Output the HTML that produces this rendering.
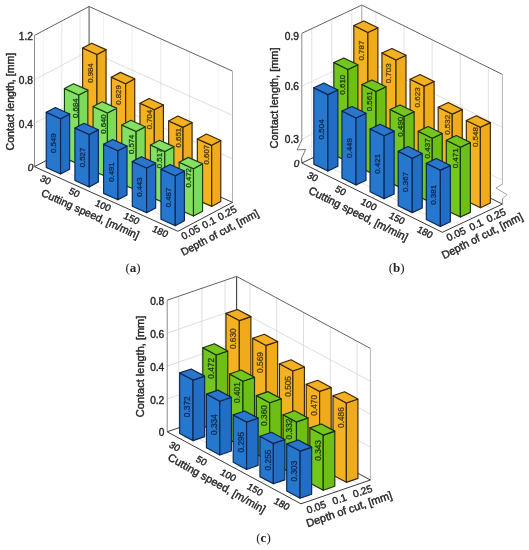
<!DOCTYPE html>
<html lang="en"><head><meta charset="utf-8"><title>Contact length charts</title>
<style>html,body{margin:0;padding:0;background:#fff}svg{display:block}</style></head>
<body>
<svg width="529" height="550" viewBox="0 0 529 550">
<defs><filter id="soft" x="0" y="0" width="529" height="550" filterUnits="userSpaceOnUse"><feGaussianBlur stdDeviation="0.35"/></filter></defs>
<rect width="529" height="550" fill="#ffffff"/>
<g filter="url(#soft)">
<rect width="529" height="550" fill="#ffffff"/>
<g>
<polygon points="34.5,166.7 34.5,35.4 89.1,6.5 232.5,71.1 232.5,202.4 177.9,231.3" fill="#ffffff"/>
<line x1="43.6" y1="161.88" x2="43.6" y2="30.58" stroke="#f0f0f0" stroke-width="0.8"/>
<line x1="43.6" y1="161.88" x2="187" y2="226.48" stroke="#e0e0e0" stroke-width="0.8"/>
<line x1="61.8" y1="152.25" x2="61.8" y2="20.95" stroke="#e0e0e0" stroke-width="0.8"/>
<line x1="61.8" y1="152.25" x2="205.2" y2="216.85" stroke="#e0e0e0" stroke-width="0.8"/>
<line x1="80" y1="142.62" x2="80" y2="11.32" stroke="#e0e0e0" stroke-width="0.8"/>
<line x1="80" y1="142.62" x2="223.4" y2="207.22" stroke="#e0e0e0" stroke-width="0.8"/>
<line x1="103.44" y1="144.26" x2="103.44" y2="12.96" stroke="#eeeeee" stroke-width="0.8"/>
<line x1="48.84" y1="173.16" x2="103.44" y2="144.26" stroke="#e0e0e0" stroke-width="0.8"/>
<line x1="132.12" y1="157.18" x2="132.12" y2="25.88" stroke="#e8e8e8" stroke-width="0.8"/>
<line x1="77.52" y1="186.08" x2="132.12" y2="157.18" stroke="#e0e0e0" stroke-width="0.8"/>
<line x1="160.8" y1="170.1" x2="160.8" y2="38.8" stroke="#e0e0e0" stroke-width="0.8"/>
<line x1="106.2" y1="199" x2="160.8" y2="170.1" stroke="#e0e0e0" stroke-width="0.8"/>
<line x1="189.48" y1="183.02" x2="189.48" y2="51.72" stroke="#e0e0e0" stroke-width="0.8"/>
<line x1="134.88" y1="211.92" x2="189.48" y2="183.02" stroke="#e0e0e0" stroke-width="0.8"/>
<line x1="218.16" y1="195.94" x2="218.16" y2="64.64" stroke="#f2f2f2" stroke-width="0.8"/>
<line x1="163.56" y1="224.84" x2="218.16" y2="195.94" stroke="#e0e0e0" stroke-width="0.8"/>
<line x1="34.5" y1="123.2" x2="89.1" y2="94.3" stroke="#d6d6d6" stroke-width="0.8"/>
<line x1="89.1" y1="94.3" x2="232.5" y2="158.9" stroke="#d6d6d6" stroke-width="0.8"/>
<line x1="34.5" y1="79.7" x2="89.1" y2="50.8" stroke="#d6d6d6" stroke-width="0.8"/>
<line x1="89.1" y1="50.8" x2="232.5" y2="115.4" stroke="#d6d6d6" stroke-width="0.8"/>
<line x1="34.5" y1="35.4" x2="89.1" y2="6.5" stroke="#5a5a5a" stroke-width="0.95"/>
<line x1="89.1" y1="6.5" x2="232.5" y2="71.1" stroke="#5a5a5a" stroke-width="0.95"/>
<line x1="89.1" y1="6.5" x2="89.1" y2="137.8" stroke="#2a2a2a" stroke-width="0.85"/>
<line x1="232.5" y1="71.1" x2="232.5" y2="202.4" stroke="#b0b0b0" stroke-width="0.95"/>
<line x1="34.5" y1="166.7" x2="34.5" y2="35.4" stroke="#858585" stroke-width="0.95"/>
<line x1="34.5" y1="166.7" x2="89.1" y2="137.8" stroke="#303030" stroke-width="0.95"/>
<line x1="89.1" y1="137.8" x2="232.5" y2="202.4" stroke="#303030" stroke-width="0.95"/>
<line x1="34.5" y1="166.7" x2="177.9" y2="231.3" stroke="#303030" stroke-width="0.95"/>
<line x1="177.9" y1="231.3" x2="232.5" y2="202.4" stroke="#303030" stroke-width="0.95"/>
<polygon points="82.62,148.25 96.96,154.71 96.96,54.46 82.62,48" fill="#f4b222" stroke="#3a2602" stroke-width="1.15" stroke-linejoin="round"/>
<polygon points="96.96,154.71 106.06,149.9 106.06,49.64 96.96,54.46" fill="#f0ab1a" stroke="#3a2602" stroke-width="1.15" stroke-linejoin="round"/>
<polygon points="82.62,48 96.96,54.46 106.06,49.64 91.72,43.18" fill="#f3b020" stroke="#3a2602" stroke-width="1.15" stroke-linejoin="round"/>
<polygon points="111.3,161.18 125.64,167.63 125.64,83.66 111.3,77.2" fill="#f4b222" stroke="#3a2602" stroke-width="1.15" stroke-linejoin="round"/>
<polygon points="125.64,167.63 134.74,162.82 134.74,78.84 125.64,83.66" fill="#f0ab1a" stroke="#3a2602" stroke-width="1.15" stroke-linejoin="round"/>
<polygon points="111.3,77.2 125.64,83.66 134.74,78.84 120.4,72.38" fill="#f3b020" stroke="#3a2602" stroke-width="1.15" stroke-linejoin="round"/>
<polygon points="139.98,174.09 154.32,180.56 154.32,109.76 139.98,103.3" fill="#f4b222" stroke="#3a2602" stroke-width="1.15" stroke-linejoin="round"/>
<polygon points="154.32,180.56 163.42,175.74 163.42,104.94 154.32,109.76" fill="#f0ab1a" stroke="#3a2602" stroke-width="1.15" stroke-linejoin="round"/>
<polygon points="139.98,103.3 154.32,109.76 163.42,104.94 149.08,98.48" fill="#f3b020" stroke="#3a2602" stroke-width="1.15" stroke-linejoin="round"/>
<polygon points="168.66,187.01 183,193.47 183,127.36 168.66,120.9" fill="#f4b222" stroke="#3a2602" stroke-width="1.15" stroke-linejoin="round"/>
<polygon points="183,193.47 192.1,188.66 192.1,122.54 183,127.36" fill="#f0ab1a" stroke="#3a2602" stroke-width="1.15" stroke-linejoin="round"/>
<polygon points="168.66,120.9 183,127.36 192.1,122.54 177.76,116.08" fill="#f3b020" stroke="#3a2602" stroke-width="1.15" stroke-linejoin="round"/>
<polygon points="197.34,199.94 211.68,206.39 211.68,145.36 197.34,138.9" fill="#f4b222" stroke="#3a2602" stroke-width="1.15" stroke-linejoin="round"/>
<polygon points="211.68,206.39 220.78,201.58 220.78,140.54 211.68,145.36" fill="#f0ab1a" stroke="#3a2602" stroke-width="1.15" stroke-linejoin="round"/>
<polygon points="197.34,138.9 211.68,145.36 220.78,140.54 206.44,134.08" fill="#f3b020" stroke="#3a2602" stroke-width="1.15" stroke-linejoin="round"/>
<polygon points="64.42,157.89 78.76,164.35 78.76,94.96 64.42,88.5" fill="#84e062" stroke="#173d0e" stroke-width="1.15" stroke-linejoin="round"/>
<polygon points="78.76,164.35 87.86,159.53 87.86,90.14 78.76,94.96" fill="#7ddb5a" stroke="#173d0e" stroke-width="1.15" stroke-linejoin="round"/>
<polygon points="64.42,88.5 78.76,94.96 87.86,90.14 73.52,83.68" fill="#86e064" stroke="#173d0e" stroke-width="1.15" stroke-linejoin="round"/>
<polygon points="93.1,170.81 107.44,177.27 107.44,112.96 93.1,106.5" fill="#84e062" stroke="#173d0e" stroke-width="1.15" stroke-linejoin="round"/>
<polygon points="107.44,177.27 116.54,172.45 116.54,108.14 107.44,112.96" fill="#7ddb5a" stroke="#173d0e" stroke-width="1.15" stroke-linejoin="round"/>
<polygon points="93.1,106.5 107.44,112.96 116.54,108.14 102.2,101.68" fill="#86e064" stroke="#173d0e" stroke-width="1.15" stroke-linejoin="round"/>
<polygon points="121.78,183.73 136.12,190.19 136.12,131.56 121.78,125.1" fill="#84e062" stroke="#173d0e" stroke-width="1.15" stroke-linejoin="round"/>
<polygon points="136.12,190.19 145.22,185.37 145.22,126.74 136.12,131.56" fill="#7ddb5a" stroke="#173d0e" stroke-width="1.15" stroke-linejoin="round"/>
<polygon points="121.78,125.1 136.12,131.56 145.22,126.74 130.88,120.28" fill="#86e064" stroke="#173d0e" stroke-width="1.15" stroke-linejoin="round"/>
<polygon points="150.46,196.65 164.8,203.11 164.8,151.46 150.46,145" fill="#84e062" stroke="#173d0e" stroke-width="1.15" stroke-linejoin="round"/>
<polygon points="164.8,203.11 173.9,198.29 173.9,146.64 164.8,151.46" fill="#7ddb5a" stroke="#173d0e" stroke-width="1.15" stroke-linejoin="round"/>
<polygon points="150.46,145 164.8,151.46 173.9,146.64 159.56,140.18" fill="#86e064" stroke="#173d0e" stroke-width="1.15" stroke-linejoin="round"/>
<polygon points="179.14,209.57 193.48,216.03 193.48,168.66 179.14,162.2" fill="#84e062" stroke="#173d0e" stroke-width="1.15" stroke-linejoin="round"/>
<polygon points="193.48,216.03 202.58,211.21 202.58,163.84 193.48,168.66" fill="#7ddb5a" stroke="#173d0e" stroke-width="1.15" stroke-linejoin="round"/>
<polygon points="179.14,162.2 193.48,168.66 202.58,163.84 188.24,157.38" fill="#86e064" stroke="#173d0e" stroke-width="1.15" stroke-linejoin="round"/>
<polygon points="46.22,167.52 60.56,173.98 60.56,118.76 46.22,112.3" fill="#2877ce" stroke="#0a2550" stroke-width="1.15" stroke-linejoin="round"/>
<polygon points="60.56,173.98 69.66,169.16 69.66,113.94 60.56,118.76" fill="#216dc5" stroke="#0a2550" stroke-width="1.15" stroke-linejoin="round"/>
<polygon points="46.22,112.3 60.56,118.76 69.66,113.94 55.32,107.48" fill="#2a76cc" stroke="#0a2550" stroke-width="1.15" stroke-linejoin="round"/>
<polygon points="74.9,180.44 89.24,186.9 89.24,134.56 74.9,128.1" fill="#2877ce" stroke="#0a2550" stroke-width="1.15" stroke-linejoin="round"/>
<polygon points="89.24,186.9 98.34,182.08 98.34,129.74 89.24,134.56" fill="#216dc5" stroke="#0a2550" stroke-width="1.15" stroke-linejoin="round"/>
<polygon points="74.9,128.1 89.24,134.56 98.34,129.74 84,123.28" fill="#2a76cc" stroke="#0a2550" stroke-width="1.15" stroke-linejoin="round"/>
<polygon points="103.58,193.36 117.92,199.82 117.92,150.76 103.58,144.3" fill="#2877ce" stroke="#0a2550" stroke-width="1.15" stroke-linejoin="round"/>
<polygon points="117.92,199.82 127.02,195 127.02,145.94 117.92,150.76" fill="#216dc5" stroke="#0a2550" stroke-width="1.15" stroke-linejoin="round"/>
<polygon points="103.58,144.3 117.92,150.76 127.02,145.94 112.68,139.48" fill="#2a76cc" stroke="#0a2550" stroke-width="1.15" stroke-linejoin="round"/>
<polygon points="132.26,206.28 146.6,212.74 146.6,167.96 132.26,161.5" fill="#2877ce" stroke="#0a2550" stroke-width="1.15" stroke-linejoin="round"/>
<polygon points="146.6,212.74 155.7,207.92 155.7,163.14 146.6,167.96" fill="#216dc5" stroke="#0a2550" stroke-width="1.15" stroke-linejoin="round"/>
<polygon points="132.26,161.5 146.6,167.96 155.7,163.14 141.36,156.68" fill="#2a76cc" stroke="#0a2550" stroke-width="1.15" stroke-linejoin="round"/>
<polygon points="160.94,219.2 175.28,225.66 175.28,175.76 160.94,169.3" fill="#2877ce" stroke="#0a2550" stroke-width="1.15" stroke-linejoin="round"/>
<polygon points="175.28,225.66 184.38,220.84 184.38,170.94 175.28,175.76" fill="#216dc5" stroke="#0a2550" stroke-width="1.15" stroke-linejoin="round"/>
<polygon points="160.94,169.3 175.28,175.76 184.38,170.94 170.04,164.48" fill="#2a76cc" stroke="#0a2550" stroke-width="1.15" stroke-linejoin="round"/>
<text x="0" y="0" font-size="7.8" text-anchor="middle" fill="#584208" stroke="#584208" stroke-width="0.35" font-family='"Liberation Sans", Arial, sans-serif' transform="translate(90.29 73.1) rotate(-90)" dominant-baseline="central">0.984</text>
<text x="0" y="0" font-size="7.8" text-anchor="middle" fill="#584208" stroke="#584208" stroke-width="0.35" font-family='"Liberation Sans", Arial, sans-serif' transform="translate(118.67 95) rotate(-90)" dominant-baseline="central">0.829</text>
<text x="0" y="0" font-size="7.8" text-anchor="middle" fill="#584208" stroke="#584208" stroke-width="0.35" font-family='"Liberation Sans", Arial, sans-serif' transform="translate(149.75 119.5) rotate(-90)" dominant-baseline="central">0.704</text>
<text x="0" y="0" font-size="7.8" text-anchor="middle" fill="#584208" stroke="#584208" stroke-width="0.35" font-family='"Liberation Sans", Arial, sans-serif' transform="translate(178.83 137.7) rotate(-90)" dominant-baseline="central">0.651</text>
<text x="0" y="0" font-size="7.8" text-anchor="middle" fill="#584208" stroke="#584208" stroke-width="0.35" font-family='"Liberation Sans", Arial, sans-serif' transform="translate(206.51 154.7) rotate(-90)" dominant-baseline="central">0.607</text>
<text x="0" y="0" font-size="7.8" text-anchor="middle" fill="#1f4c14" stroke="#1f4c14" stroke-width="0.35" font-family='"Liberation Sans", Arial, sans-serif' transform="translate(75.59 108.2) rotate(-90)" dominant-baseline="central">0.684</text>
<text x="0" y="0" font-size="7.8" text-anchor="middle" fill="#1f4c14" stroke="#1f4c14" stroke-width="0.35" font-family='"Liberation Sans", Arial, sans-serif' transform="translate(103.27 124.1) rotate(-90)" dominant-baseline="central">0.640</text>
<text x="0" y="0" font-size="7.8" text-anchor="middle" fill="#1f4c14" stroke="#1f4c14" stroke-width="0.35" font-family='"Liberation Sans", Arial, sans-serif' transform="translate(131.65 144.3) rotate(-90)" dominant-baseline="central">0.574</text>
<text x="0" y="0" font-size="7.8" text-anchor="middle" fill="#1f4c14" stroke="#1f4c14" stroke-width="0.35" font-family='"Liberation Sans", Arial, sans-serif' transform="translate(159.43 158.4) rotate(-90)" dominant-baseline="central">0.517</text>
<text x="0" y="0" font-size="7.8" text-anchor="middle" fill="#1f4c14" stroke="#1f4c14" stroke-width="0.35" font-family='"Liberation Sans", Arial, sans-serif' transform="translate(188.31 177.8) rotate(-90)" dominant-baseline="central">0.472</text>
<text x="0" y="0" font-size="7.8" text-anchor="middle" fill="#0b2d58" stroke="#0b2d58" stroke-width="0.35" font-family='"Liberation Sans", Arial, sans-serif' transform="translate(53.69 143.14) rotate(-90)" dominant-baseline="central">0.549</text>
<text x="0" y="0" font-size="7.8" text-anchor="middle" fill="#0b2d58" stroke="#0b2d58" stroke-width="0.35" font-family='"Liberation Sans", Arial, sans-serif' transform="translate(82.37 157.5) rotate(-90)" dominant-baseline="central">0.527</text>
<text x="0" y="0" font-size="7.8" text-anchor="middle" fill="#0b2d58" stroke="#0b2d58" stroke-width="0.35" font-family='"Liberation Sans", Arial, sans-serif' transform="translate(111.05 172.06) rotate(-90)" dominant-baseline="central">0.491</text>
<text x="0" y="0" font-size="7.8" text-anchor="middle" fill="#0b2d58" stroke="#0b2d58" stroke-width="0.35" font-family='"Liberation Sans", Arial, sans-serif' transform="translate(139.73 187.12) rotate(-90)" dominant-baseline="central">0.443</text>
<text x="0" y="0" font-size="7.8" text-anchor="middle" fill="#0b2d58" stroke="#0b2d58" stroke-width="0.35" font-family='"Liberation Sans", Arial, sans-serif' transform="translate(168.41 197.48) rotate(-90)" dominant-baseline="central">0.487</text>
<text x="0" y="0" font-size="10.2" text-anchor="end" fill="#262626" stroke="#262626" stroke-width="0.4" font-family='"Liberation Sans", Arial, sans-serif' transform="translate(33 171.1) rotate(0) skewX(-10)">0</text>
<text x="33" y="127.6" font-size="10.2" text-anchor="end" fill="#262626" stroke="#262626" stroke-width="0.4" font-family='"Liberation Sans", Arial, sans-serif'>0.4</text>
<text x="33" y="84.1" font-size="10.2" text-anchor="end" fill="#262626" stroke="#262626" stroke-width="0.4" font-family='"Liberation Sans", Arial, sans-serif'>0.8</text>
<text x="33" y="39.8" font-size="10.2" text-anchor="end" fill="#262626" stroke="#262626" stroke-width="0.4" font-family='"Liberation Sans", Arial, sans-serif'>1.2</text>
<text x="0" y="0" font-size="9.6" text-anchor="middle" fill="#262626" stroke="#262626" stroke-width="0.4" font-family='"Liberation Sans", Arial, sans-serif' transform="translate(45.74 179.56) rotate(24.25) skewX(-4)" dominant-baseline="central">30</text>
<text x="0" y="0" font-size="9.6" text-anchor="middle" fill="#262626" stroke="#262626" stroke-width="0.4" font-family='"Liberation Sans", Arial, sans-serif' transform="translate(74.42 192.48) rotate(24.25) skewX(-4)" dominant-baseline="central">50</text>
<text x="0" y="0" font-size="9.6" text-anchor="middle" fill="#262626" stroke="#262626" stroke-width="0.4" font-family='"Liberation Sans", Arial, sans-serif' transform="translate(103.1 205.4) rotate(24.25) skewX(-4)" dominant-baseline="central">100</text>
<text x="0" y="0" font-size="9.6" text-anchor="middle" fill="#262626" stroke="#262626" stroke-width="0.4" font-family='"Liberation Sans", Arial, sans-serif' transform="translate(131.78 218.32) rotate(24.25) skewX(-4)" dominant-baseline="central">150</text>
<text x="0" y="0" font-size="9.6" text-anchor="middle" fill="#262626" stroke="#262626" stroke-width="0.4" font-family='"Liberation Sans", Arial, sans-serif' transform="translate(160.46 231.24) rotate(24.25) skewX(-4)" dominant-baseline="central">180</text>
<text x="0" y="0" font-size="10.2" text-anchor="middle" fill="#262626" stroke="#262626" stroke-width="0.4" font-family='"Liberation Sans", Arial, sans-serif' transform="translate(190.7 232.18) rotate(-27.89)" dominant-baseline="central">0.05</text>
<text x="0" y="0" font-size="10.2" text-anchor="middle" fill="#262626" stroke="#262626" stroke-width="0.4" font-family='"Liberation Sans", Arial, sans-serif' transform="translate(208.9 222.55) rotate(-27.89)" dominant-baseline="central">0.1</text>
<text x="0" y="0" font-size="10.2" text-anchor="middle" fill="#262626" stroke="#262626" stroke-width="0.4" font-family='"Liberation Sans", Arial, sans-serif' transform="translate(227.1 212.92) rotate(-27.89)" dominant-baseline="central">0.25</text>
<text x="0" y="0" font-size="10.6" text-anchor="middle" fill="#262626" stroke="#262626" stroke-width="0.4" font-family='"Liberation Sans", Arial, sans-serif' transform="translate(13.6 101.6) rotate(-90)">Contact length, [mm]</text>
<text x="0" y="0" font-size="10.6" text-anchor="middle" fill="#262626" stroke="#262626" stroke-width="0.4" font-family='"Liberation Sans", Arial, sans-serif' transform="translate(90.5 213.6) rotate(24.25)" dominant-baseline="central">Cutting speed, [m/min]</text>
<text x="0" y="0" font-size="10.6" text-anchor="middle" fill="#262626" stroke="#262626" stroke-width="0.4" font-family='"Liberation Sans", Arial, sans-serif' transform="translate(219.5 232.3) rotate(-27.89)" dominant-baseline="central">Depth of cut, [mm]</text>
<text x="133" y="272.3" font-size="13" text-anchor="middle" fill="#222" font-family='"Liberation Serif", "Times New Roman", serif'>(<tspan font-weight="bold">a</tspan>)</text>
</g>
<g>
<polygon points="301.8,163 301.8,33.3 361.8,5.1 502.4,74.4 502.4,204.1 442.4,232.3" fill="#ffffff"/>
<line x1="311.8" y1="158.3" x2="311.8" y2="28.6" stroke="#dadada" stroke-width="0.8"/>
<line x1="311.8" y1="158.3" x2="452.4" y2="227.6" stroke="#dadada" stroke-width="0.8"/>
<line x1="331.8" y1="148.9" x2="331.8" y2="19.2" stroke="#dadada" stroke-width="0.8"/>
<line x1="331.8" y1="148.9" x2="472.4" y2="218.2" stroke="#dadada" stroke-width="0.8"/>
<line x1="351.8" y1="139.5" x2="351.8" y2="9.8" stroke="#dadada" stroke-width="0.8"/>
<line x1="351.8" y1="139.5" x2="492.4" y2="208.8" stroke="#dadada" stroke-width="0.8"/>
<line x1="375.86" y1="141.73" x2="375.86" y2="12.03" stroke="#dadada" stroke-width="0.8"/>
<line x1="315.86" y1="169.93" x2="375.86" y2="141.73" stroke="#dadada" stroke-width="0.8"/>
<line x1="403.98" y1="155.59" x2="403.98" y2="25.89" stroke="#dadada" stroke-width="0.8"/>
<line x1="343.98" y1="183.79" x2="403.98" y2="155.59" stroke="#dadada" stroke-width="0.8"/>
<line x1="432.1" y1="169.45" x2="432.1" y2="39.75" stroke="#dadada" stroke-width="0.8"/>
<line x1="372.1" y1="197.65" x2="432.1" y2="169.45" stroke="#dadada" stroke-width="0.8"/>
<line x1="460.22" y1="183.31" x2="460.22" y2="53.61" stroke="#dadada" stroke-width="0.8"/>
<line x1="400.22" y1="211.51" x2="460.22" y2="183.31" stroke="#dadada" stroke-width="0.8"/>
<line x1="488.34" y1="197.17" x2="488.34" y2="67.47" stroke="#dadada" stroke-width="0.8"/>
<line x1="428.34" y1="225.37" x2="488.34" y2="197.17" stroke="#dadada" stroke-width="0.8"/>
<line x1="301.8" y1="139.1" x2="361.8" y2="110.9" stroke="#dadada" stroke-width="0.8"/>
<line x1="361.8" y1="110.9" x2="502.4" y2="180.2" stroke="#dadada" stroke-width="0.8"/>
<line x1="301.8" y1="86.2" x2="361.8" y2="58" stroke="#dadada" stroke-width="0.8"/>
<line x1="361.8" y1="58" x2="502.4" y2="127.3" stroke="#dadada" stroke-width="0.8"/>
<line x1="301.8" y1="33.3" x2="361.8" y2="5.1" stroke="#5a5a5a" stroke-width="0.95"/>
<line x1="361.8" y1="5.1" x2="502.4" y2="74.4" stroke="#5a5a5a" stroke-width="0.95"/>
<line x1="361.8" y1="5.1" x2="361.8" y2="134.8" stroke="#909090" stroke-width="0.85"/>
<line x1="502.4" y1="74.4" x2="502.4" y2="204.1" stroke="#b0b0b0" stroke-width="0.95"/>
<line x1="301.8" y1="163" x2="301.8" y2="33.3" stroke="#858585" stroke-width="0.95"/>
<line x1="301.8" y1="163" x2="361.8" y2="134.8" stroke="#303030" stroke-width="0.95"/>
<line x1="361.8" y1="134.8" x2="502.4" y2="204.1" stroke="#303030" stroke-width="0.95"/>
<line x1="301.8" y1="163" x2="442.4" y2="232.3" stroke="#303030" stroke-width="0.95"/>
<line x1="442.4" y1="232.3" x2="502.4" y2="204.1" stroke="#303030" stroke-width="0.95"/>
<rect x="296" y="140.5" width="11" height="18" fill="#fff"/>
<polyline points="301.8,140 297.1,149.9 305.6,149.5 301.3,158.9 301.8,162.7" fill="none" stroke="#555" stroke-width="0.8" stroke-linejoin="miter"/>
<rect x="495" y="184.5" width="13" height="14" fill="#fff"/>
<polyline points="502.4,184.1 495.9,188 507,194.6 502.4,198.9 502.4,203.7" fill="none" stroke="#8a8a8a" stroke-width="0.8" stroke-linejoin="miter"/>
<polygon points="353.83,145.31 367.89,152.25 367.89,32.53 353.83,25.6" fill="#f4b222" stroke="#3a2602" stroke-width="1.15" stroke-linejoin="round"/>
<polygon points="367.89,152.25 377.89,147.55 377.89,27.83 367.89,32.53" fill="#f0ab1a" stroke="#3a2602" stroke-width="1.15" stroke-linejoin="round"/>
<polygon points="353.83,25.6 367.89,32.53 377.89,27.83 363.83,20.9" fill="#f3b020" stroke="#3a2602" stroke-width="1.15" stroke-linejoin="round"/>
<polygon points="381.95,159.17 396.01,166.1 396.01,60.03 381.95,53.1" fill="#f4b222" stroke="#3a2602" stroke-width="1.15" stroke-linejoin="round"/>
<polygon points="396.01,166.1 406.01,161.41 406.01,55.33 396.01,60.03" fill="#f0ab1a" stroke="#3a2602" stroke-width="1.15" stroke-linejoin="round"/>
<polygon points="381.95,53.1 396.01,60.03 406.01,55.33 391.95,48.4" fill="#f3b020" stroke="#3a2602" stroke-width="1.15" stroke-linejoin="round"/>
<polygon points="410.07,173.03 424.13,179.97 424.13,86.13 410.07,79.2" fill="#f4b222" stroke="#3a2602" stroke-width="1.15" stroke-linejoin="round"/>
<polygon points="424.13,179.97 434.13,175.27 434.13,81.43 424.13,86.13" fill="#f0ab1a" stroke="#3a2602" stroke-width="1.15" stroke-linejoin="round"/>
<polygon points="410.07,79.2 424.13,86.13 434.13,81.43 420.07,74.5" fill="#f3b020" stroke="#3a2602" stroke-width="1.15" stroke-linejoin="round"/>
<polygon points="438.19,186.9 452.25,193.82 452.25,114.13 438.19,107.2" fill="#f4b222" stroke="#3a2602" stroke-width="1.15" stroke-linejoin="round"/>
<polygon points="452.25,193.82 462.25,189.12 462.25,109.43 452.25,114.13" fill="#f0ab1a" stroke="#3a2602" stroke-width="1.15" stroke-linejoin="round"/>
<polygon points="438.19,107.2 452.25,114.13 462.25,109.43 448.19,102.5" fill="#f3b020" stroke="#3a2602" stroke-width="1.15" stroke-linejoin="round"/>
<polygon points="466.31,200.75 480.37,207.68 480.37,127.33 466.31,120.4" fill="#f4b222" stroke="#3a2602" stroke-width="1.15" stroke-linejoin="round"/>
<polygon points="480.37,207.68 490.37,202.98 490.37,122.63 480.37,127.33" fill="#f0ab1a" stroke="#3a2602" stroke-width="1.15" stroke-linejoin="round"/>
<polygon points="466.31,120.4 480.37,127.33 490.37,122.63 476.31,115.7" fill="#f3b020" stroke="#3a2602" stroke-width="1.15" stroke-linejoin="round"/>
<polygon points="333.83,154.72 347.89,161.65 347.89,69.53 333.83,62.6" fill="#73c61d" stroke="#16300a" stroke-width="1.15" stroke-linejoin="round"/>
<polygon points="347.89,161.65 357.89,156.95 357.89,64.83 347.89,69.53" fill="#6dbf18" stroke="#16300a" stroke-width="1.15" stroke-linejoin="round"/>
<polygon points="333.83,62.6 347.89,69.53 357.89,64.83 343.83,57.9" fill="#74c61f" stroke="#16300a" stroke-width="1.15" stroke-linejoin="round"/>
<polygon points="361.95,168.57 376.01,175.5 376.01,91.53 361.95,84.6" fill="#73c61d" stroke="#16300a" stroke-width="1.15" stroke-linejoin="round"/>
<polygon points="376.01,175.5 386.01,170.81 386.01,86.83 376.01,91.53" fill="#6dbf18" stroke="#16300a" stroke-width="1.15" stroke-linejoin="round"/>
<polygon points="361.95,84.6 376.01,91.53 386.01,86.83 371.95,79.9" fill="#74c61f" stroke="#16300a" stroke-width="1.15" stroke-linejoin="round"/>
<polygon points="390.07,182.44 404.13,189.37 404.13,116.53 390.07,109.6" fill="#73c61d" stroke="#16300a" stroke-width="1.15" stroke-linejoin="round"/>
<polygon points="404.13,189.37 414.13,184.67 414.13,111.83 404.13,116.53" fill="#6dbf18" stroke="#16300a" stroke-width="1.15" stroke-linejoin="round"/>
<polygon points="390.07,109.6 404.13,116.53 414.13,111.83 400.07,104.9" fill="#74c61f" stroke="#16300a" stroke-width="1.15" stroke-linejoin="round"/>
<polygon points="418.19,196.3 432.25,203.22 432.25,138.23 418.19,131.3" fill="#73c61d" stroke="#16300a" stroke-width="1.15" stroke-linejoin="round"/>
<polygon points="432.25,203.22 442.25,198.53 442.25,133.53 432.25,138.23" fill="#6dbf18" stroke="#16300a" stroke-width="1.15" stroke-linejoin="round"/>
<polygon points="418.19,131.3 432.25,138.23 442.25,133.53 428.19,126.6" fill="#74c61f" stroke="#16300a" stroke-width="1.15" stroke-linejoin="round"/>
<polygon points="446.31,210.16 460.37,217.08 460.37,147.23 446.31,140.3" fill="#73c61d" stroke="#16300a" stroke-width="1.15" stroke-linejoin="round"/>
<polygon points="460.37,217.08 470.37,212.38 470.37,142.53 460.37,147.23" fill="#6dbf18" stroke="#16300a" stroke-width="1.15" stroke-linejoin="round"/>
<polygon points="446.31,140.3 460.37,147.23 470.37,142.53 456.31,135.6" fill="#74c61f" stroke="#16300a" stroke-width="1.15" stroke-linejoin="round"/>
<polygon points="313.83,164.12 327.89,171.05 327.89,94.63 313.83,87.7" fill="#2877ce" stroke="#0a2550" stroke-width="1.15" stroke-linejoin="round"/>
<polygon points="327.89,171.05 337.89,166.34 337.89,89.93 327.89,94.63" fill="#216dc5" stroke="#0a2550" stroke-width="1.15" stroke-linejoin="round"/>
<polygon points="313.83,87.7 327.89,94.63 337.89,89.93 323.83,83" fill="#2a76cc" stroke="#0a2550" stroke-width="1.15" stroke-linejoin="round"/>
<polygon points="341.95,177.97 356.01,184.91 356.01,118.03 341.95,111.1" fill="#2877ce" stroke="#0a2550" stroke-width="1.15" stroke-linejoin="round"/>
<polygon points="356.01,184.91 366.01,180.2 366.01,113.33 356.01,118.03" fill="#216dc5" stroke="#0a2550" stroke-width="1.15" stroke-linejoin="round"/>
<polygon points="341.95,111.1 356.01,118.03 366.01,113.33 351.95,106.4" fill="#2a76cc" stroke="#0a2550" stroke-width="1.15" stroke-linejoin="round"/>
<polygon points="370.07,191.84 384.13,198.77 384.13,135.83 370.07,128.9" fill="#2877ce" stroke="#0a2550" stroke-width="1.15" stroke-linejoin="round"/>
<polygon points="384.13,198.77 394.13,194.06 394.13,131.13 384.13,135.83" fill="#216dc5" stroke="#0a2550" stroke-width="1.15" stroke-linejoin="round"/>
<polygon points="370.07,128.9 384.13,135.83 394.13,131.13 380.07,124.2" fill="#2a76cc" stroke="#0a2550" stroke-width="1.15" stroke-linejoin="round"/>
<polygon points="398.19,205.7 412.25,212.62 412.25,158.23 398.19,151.3" fill="#2877ce" stroke="#0a2550" stroke-width="1.15" stroke-linejoin="round"/>
<polygon points="412.25,212.62 422.25,207.92 422.25,153.53 412.25,158.23" fill="#216dc5" stroke="#0a2550" stroke-width="1.15" stroke-linejoin="round"/>
<polygon points="398.19,151.3 412.25,158.23 422.25,153.53 408.19,146.6" fill="#2a76cc" stroke="#0a2550" stroke-width="1.15" stroke-linejoin="round"/>
<polygon points="426.31,219.56 440.37,226.48 440.37,170.13 426.31,163.2" fill="#2877ce" stroke="#0a2550" stroke-width="1.15" stroke-linejoin="round"/>
<polygon points="440.37,226.48 450.37,221.78 450.37,165.43 440.37,170.13" fill="#216dc5" stroke="#0a2550" stroke-width="1.15" stroke-linejoin="round"/>
<polygon points="426.31,163.2 440.37,170.13 450.37,165.43 436.31,158.5" fill="#2a76cc" stroke="#0a2550" stroke-width="1.15" stroke-linejoin="round"/>
<text x="0" y="0" font-size="8.0" text-anchor="middle" fill="#584208" stroke="#584208" stroke-width="0.35" font-family='"Liberation Sans", Arial, sans-serif' transform="translate(361.66 50.6) rotate(-90)" dominant-baseline="central">0.787</text>
<text x="0" y="0" font-size="8.0" text-anchor="middle" fill="#584208" stroke="#584208" stroke-width="0.35" font-family='"Liberation Sans", Arial, sans-serif' transform="translate(388.78 73.3) rotate(-90)" dominant-baseline="central">0.703</text>
<text x="0" y="0" font-size="8.0" text-anchor="middle" fill="#584208" stroke="#584208" stroke-width="0.35" font-family='"Liberation Sans", Arial, sans-serif' transform="translate(417.4 97.4) rotate(-90)" dominant-baseline="central">0.623</text>
<text x="0" y="0" font-size="8.0" text-anchor="middle" fill="#584208" stroke="#584208" stroke-width="0.35" font-family='"Liberation Sans", Arial, sans-serif' transform="translate(447.02 124.8) rotate(-90)" dominant-baseline="central">0.532</text>
<text x="0" y="0" font-size="8.0" text-anchor="middle" fill="#584208" stroke="#584208" stroke-width="0.35" font-family='"Liberation Sans", Arial, sans-serif' transform="translate(475.94 137.1) rotate(-90)" dominant-baseline="central">0.548</text>
<text x="0" y="0" font-size="8.0" text-anchor="middle" fill="#22440a" stroke="#22440a" stroke-width="0.35" font-family='"Liberation Sans", Arial, sans-serif' transform="translate(342.26 84.7) rotate(-90)" dominant-baseline="central">0.610</text>
<text x="0" y="0" font-size="8.0" text-anchor="middle" fill="#22440a" stroke="#22440a" stroke-width="0.35" font-family='"Liberation Sans", Arial, sans-serif' transform="translate(369.48 101.3) rotate(-90)" dominant-baseline="central">0.561</text>
<text x="0" y="0" font-size="8.0" text-anchor="middle" fill="#22440a" stroke="#22440a" stroke-width="0.35" font-family='"Liberation Sans", Arial, sans-serif' transform="translate(400.1 126.7) rotate(-90)" dominant-baseline="central">0.490</text>
<text x="0" y="0" font-size="8.0" text-anchor="middle" fill="#22440a" stroke="#22440a" stroke-width="0.35" font-family='"Liberation Sans", Arial, sans-serif' transform="translate(427.92 148.4) rotate(-90)" dominant-baseline="central">0.437</text>
<text x="0" y="0" font-size="8.0" text-anchor="middle" fill="#22440a" stroke="#22440a" stroke-width="0.35" font-family='"Liberation Sans", Arial, sans-serif' transform="translate(455.14 158.3) rotate(-90)" dominant-baseline="central">0.471</text>
<text x="0" y="0" font-size="8.0" text-anchor="middle" fill="#0b2d58" stroke="#0b2d58" stroke-width="0.35" font-family='"Liberation Sans", Arial, sans-serif' transform="translate(321.16 129.37) rotate(-90)" dominant-baseline="central">0.504</text>
<text x="0" y="0" font-size="8.0" text-anchor="middle" fill="#0b2d58" stroke="#0b2d58" stroke-width="0.35" font-family='"Liberation Sans", Arial, sans-serif' transform="translate(349.28 148) rotate(-90)" dominant-baseline="central">0.449</text>
<text x="0" y="0" font-size="8.0" text-anchor="middle" fill="#0b2d58" stroke="#0b2d58" stroke-width="0.35" font-family='"Liberation Sans", Arial, sans-serif' transform="translate(377.4 163.83) rotate(-90)" dominant-baseline="central">0.421</text>
<text x="0" y="0" font-size="8.0" text-anchor="middle" fill="#0b2d58" stroke="#0b2d58" stroke-width="0.35" font-family='"Liberation Sans", Arial, sans-serif' transform="translate(405.52 181.96) rotate(-90)" dominant-baseline="central">0.367</text>
<text x="0" y="0" font-size="8.0" text-anchor="middle" fill="#0b2d58" stroke="#0b2d58" stroke-width="0.35" font-family='"Liberation Sans", Arial, sans-serif' transform="translate(433.64 194.84) rotate(-90)" dominant-baseline="central">0.381</text>
<text x="0" y="0" font-size="10.2" text-anchor="end" fill="#262626" stroke="#262626" stroke-width="0.4" font-family='"Liberation Sans", Arial, sans-serif' transform="translate(298.9 166.6) rotate(0) skewX(-10)">0</text>
<text x="298.9" y="142.7" font-size="10.2" text-anchor="end" fill="#262626" stroke="#262626" stroke-width="0.4" font-family='"Liberation Sans", Arial, sans-serif'>0.3</text>
<text x="298.9" y="89.8" font-size="10.2" text-anchor="end" fill="#262626" stroke="#262626" stroke-width="0.4" font-family='"Liberation Sans", Arial, sans-serif'>0.6</text>
<text x="298.9" y="40.2" font-size="10.2" text-anchor="end" fill="#262626" stroke="#262626" stroke-width="0.4" font-family='"Liberation Sans", Arial, sans-serif'>0.9</text>
<text x="0" y="0" font-size="9.6" text-anchor="middle" fill="#262626" stroke="#262626" stroke-width="0.4" font-family='"Liberation Sans", Arial, sans-serif' transform="translate(312.76 176.53) rotate(26.24) skewX(-4)" dominant-baseline="central">30</text>
<text x="0" y="0" font-size="9.6" text-anchor="middle" fill="#262626" stroke="#262626" stroke-width="0.4" font-family='"Liberation Sans", Arial, sans-serif' transform="translate(340.88 190.39) rotate(26.24) skewX(-4)" dominant-baseline="central">50</text>
<text x="0" y="0" font-size="9.6" text-anchor="middle" fill="#262626" stroke="#262626" stroke-width="0.4" font-family='"Liberation Sans", Arial, sans-serif' transform="translate(369 204.25) rotate(26.24) skewX(-4)" dominant-baseline="central">100</text>
<text x="0" y="0" font-size="9.6" text-anchor="middle" fill="#262626" stroke="#262626" stroke-width="0.4" font-family='"Liberation Sans", Arial, sans-serif' transform="translate(397.12 218.11) rotate(26.24) skewX(-4)" dominant-baseline="central">150</text>
<text x="0" y="0" font-size="9.6" text-anchor="middle" fill="#262626" stroke="#262626" stroke-width="0.4" font-family='"Liberation Sans", Arial, sans-serif' transform="translate(425.24 231.97) rotate(26.24) skewX(-4)" dominant-baseline="central">180</text>
<text x="0" y="0" font-size="10.2" text-anchor="middle" fill="#262626" stroke="#262626" stroke-width="0.4" font-family='"Liberation Sans", Arial, sans-serif' transform="translate(456.1 234.1) rotate(-25.17)" dominant-baseline="central">0.05</text>
<text x="0" y="0" font-size="10.2" text-anchor="middle" fill="#262626" stroke="#262626" stroke-width="0.4" font-family='"Liberation Sans", Arial, sans-serif' transform="translate(476.1 224.7) rotate(-25.17)" dominant-baseline="central">0.1</text>
<text x="0" y="0" font-size="10.2" text-anchor="middle" fill="#262626" stroke="#262626" stroke-width="0.4" font-family='"Liberation Sans", Arial, sans-serif' transform="translate(496.1 215.3) rotate(-25.17)" dominant-baseline="central">0.25</text>
<text x="0" y="0" font-size="10.95" text-anchor="middle" fill="#262626" stroke="#262626" stroke-width="0.4" font-family='"Liberation Sans", Arial, sans-serif' transform="translate(277.7 98) rotate(-90)">Contact length, [mm]</text>
<text x="0" y="0" font-size="10.95" text-anchor="middle" fill="#262626" stroke="#262626" stroke-width="0.4" font-family='"Liberation Sans", Arial, sans-serif' transform="translate(358.5 213.5) rotate(26.24)" dominant-baseline="central">Cutting speed, [m/min]</text>
<text x="0" y="0" font-size="10.95" text-anchor="middle" fill="#262626" stroke="#262626" stroke-width="0.4" font-family='"Liberation Sans", Arial, sans-serif' transform="translate(482 235.6) rotate(-26.67)" dominant-baseline="central">Depth of cut, [mm]</text>
<text x="396.6" y="272.3" font-size="13" text-anchor="middle" fill="#222" font-family='"Liberation Serif", "Times New Roman", serif'>(<tspan font-weight="bold">b</tspan>)</text>
</g>
<g>
<polygon points="167.2,431.8 167.2,300.2 236.6,276.4 370.4,348.4 370.4,480 301,503.8" fill="#ffffff"/>
<line x1="178.77" y1="427.83" x2="178.77" y2="296.23" stroke="#d6d6d6" stroke-width="0.8"/>
<line x1="178.77" y1="427.83" x2="312.57" y2="499.83" stroke="#d6d6d6" stroke-width="0.8"/>
<line x1="201.9" y1="419.9" x2="201.9" y2="288.3" stroke="#d6d6d6" stroke-width="0.8"/>
<line x1="201.9" y1="419.9" x2="335.7" y2="491.9" stroke="#d6d6d6" stroke-width="0.8"/>
<line x1="225.03" y1="411.97" x2="225.03" y2="280.37" stroke="#d6d6d6" stroke-width="0.8"/>
<line x1="225.03" y1="411.97" x2="358.83" y2="483.97" stroke="#d6d6d6" stroke-width="0.8"/>
<line x1="249.98" y1="415.2" x2="249.98" y2="283.6" stroke="#d6d6d6" stroke-width="0.8"/>
<line x1="180.58" y1="439" x2="249.98" y2="415.2" stroke="#d6d6d6" stroke-width="0.8"/>
<line x1="276.74" y1="429.6" x2="276.74" y2="298" stroke="#d6d6d6" stroke-width="0.8"/>
<line x1="207.34" y1="453.4" x2="276.74" y2="429.6" stroke="#d6d6d6" stroke-width="0.8"/>
<line x1="303.5" y1="444" x2="303.5" y2="312.4" stroke="#d6d6d6" stroke-width="0.8"/>
<line x1="234.1" y1="467.8" x2="303.5" y2="444" stroke="#d6d6d6" stroke-width="0.8"/>
<line x1="330.26" y1="458.4" x2="330.26" y2="326.8" stroke="#d6d6d6" stroke-width="0.8"/>
<line x1="260.86" y1="482.2" x2="330.26" y2="458.4" stroke="#d6d6d6" stroke-width="0.8"/>
<line x1="357.02" y1="472.8" x2="357.02" y2="341.2" stroke="#d6d6d6" stroke-width="0.8"/>
<line x1="287.62" y1="496.6" x2="357.02" y2="472.8" stroke="#d6d6d6" stroke-width="0.8"/>
<line x1="167.2" y1="398.9" x2="236.6" y2="375.1" stroke="#d6d6d6" stroke-width="0.8"/>
<line x1="236.6" y1="375.1" x2="370.4" y2="447.1" stroke="#d6d6d6" stroke-width="0.8"/>
<line x1="167.2" y1="366" x2="236.6" y2="342.2" stroke="#d6d6d6" stroke-width="0.8"/>
<line x1="236.6" y1="342.2" x2="370.4" y2="414.2" stroke="#d6d6d6" stroke-width="0.8"/>
<line x1="167.2" y1="333.1" x2="236.6" y2="309.3" stroke="#d6d6d6" stroke-width="0.8"/>
<line x1="236.6" y1="309.3" x2="370.4" y2="381.3" stroke="#d6d6d6" stroke-width="0.8"/>
<line x1="167.2" y1="300.2" x2="236.6" y2="276.4" stroke="#5a5a5a" stroke-width="0.95"/>
<line x1="236.6" y1="276.4" x2="370.4" y2="348.4" stroke="#5a5a5a" stroke-width="0.95"/>
<line x1="236.6" y1="276.4" x2="236.6" y2="408" stroke="#404040" stroke-width="1.1"/>
<line x1="370.4" y1="348.4" x2="370.4" y2="480" stroke="#b0b0b0" stroke-width="0.95"/>
<line x1="167.2" y1="431.8" x2="167.2" y2="300.2" stroke="#858585" stroke-width="0.95"/>
<line x1="167.2" y1="431.8" x2="236.6" y2="408" stroke="#303030" stroke-width="0.95"/>
<line x1="236.6" y1="408" x2="370.4" y2="480" stroke="#303030" stroke-width="0.95"/>
<line x1="167.2" y1="431.8" x2="301" y2="503.8" stroke="#303030" stroke-width="0.95"/>
<line x1="301" y1="503.8" x2="370.4" y2="480" stroke="#303030" stroke-width="0.95"/>
<polygon points="225.94,417.55 239.32,424.75 239.32,320.6 225.94,313.4" fill="#f4b222" stroke="#3a2602" stroke-width="1.15" stroke-linejoin="round"/>
<polygon points="239.32,424.75 250.89,420.78 250.89,316.63 239.32,320.6" fill="#f0ab1a" stroke="#3a2602" stroke-width="1.15" stroke-linejoin="round"/>
<polygon points="225.94,313.4 239.32,320.6 250.89,316.63 237.51,309.43" fill="#f3b020" stroke="#3a2602" stroke-width="1.15" stroke-linejoin="round"/>
<polygon points="252.7,431.95 266.08,439.15 266.08,345.4 252.7,338.2" fill="#f4b222" stroke="#3a2602" stroke-width="1.15" stroke-linejoin="round"/>
<polygon points="266.08,439.15 277.65,435.18 277.65,341.43 266.08,345.4" fill="#f0ab1a" stroke="#3a2602" stroke-width="1.15" stroke-linejoin="round"/>
<polygon points="252.7,338.2 266.08,345.4 277.65,341.43 264.27,334.23" fill="#f3b020" stroke="#3a2602" stroke-width="1.15" stroke-linejoin="round"/>
<polygon points="279.46,446.35 292.84,453.55 292.84,371 279.46,363.8" fill="#f4b222" stroke="#3a2602" stroke-width="1.15" stroke-linejoin="round"/>
<polygon points="292.84,453.55 304.41,449.58 304.41,367.03 292.84,371" fill="#f0ab1a" stroke="#3a2602" stroke-width="1.15" stroke-linejoin="round"/>
<polygon points="279.46,363.8 292.84,371 304.41,367.03 291.03,359.83" fill="#f3b020" stroke="#3a2602" stroke-width="1.15" stroke-linejoin="round"/>
<polygon points="306.22,460.75 319.6,467.95 319.6,391.4 306.22,384.2" fill="#f4b222" stroke="#3a2602" stroke-width="1.15" stroke-linejoin="round"/>
<polygon points="319.6,467.95 331.17,463.98 331.17,387.43 319.6,391.4" fill="#f0ab1a" stroke="#3a2602" stroke-width="1.15" stroke-linejoin="round"/>
<polygon points="306.22,384.2 319.6,391.4 331.17,387.43 317.79,380.23" fill="#f3b020" stroke="#3a2602" stroke-width="1.15" stroke-linejoin="round"/>
<polygon points="332.98,475.15 346.36,482.35 346.36,403 332.98,395.8" fill="#f4b222" stroke="#3a2602" stroke-width="1.15" stroke-linejoin="round"/>
<polygon points="346.36,482.35 357.93,478.38 357.93,399.03 346.36,403" fill="#f0ab1a" stroke="#3a2602" stroke-width="1.15" stroke-linejoin="round"/>
<polygon points="332.98,395.8 346.36,403 357.93,399.03 344.55,391.83" fill="#f3b020" stroke="#3a2602" stroke-width="1.15" stroke-linejoin="round"/>
<polygon points="202.81,425.48 216.19,432.68 216.19,355 202.81,347.8" fill="#73c61d" stroke="#16300a" stroke-width="1.15" stroke-linejoin="round"/>
<polygon points="216.19,432.68 227.75,428.72 227.75,351.03 216.19,355" fill="#6dbf18" stroke="#16300a" stroke-width="1.15" stroke-linejoin="round"/>
<polygon points="202.81,347.8 216.19,355 227.75,351.03 214.37,343.83" fill="#74c61f" stroke="#16300a" stroke-width="1.15" stroke-linejoin="round"/>
<polygon points="229.57,439.88 242.95,447.08 242.95,381.2 229.57,374" fill="#73c61d" stroke="#16300a" stroke-width="1.15" stroke-linejoin="round"/>
<polygon points="242.95,447.08 254.51,443.12 254.51,377.23 242.95,381.2" fill="#6dbf18" stroke="#16300a" stroke-width="1.15" stroke-linejoin="round"/>
<polygon points="229.57,374 242.95,381.2 254.51,377.23 241.13,370.03" fill="#74c61f" stroke="#16300a" stroke-width="1.15" stroke-linejoin="round"/>
<polygon points="256.33,454.28 269.71,461.48 269.71,402.8 256.33,395.6" fill="#73c61d" stroke="#16300a" stroke-width="1.15" stroke-linejoin="round"/>
<polygon points="269.71,461.48 281.27,457.52 281.27,398.83 269.71,402.8" fill="#6dbf18" stroke="#16300a" stroke-width="1.15" stroke-linejoin="round"/>
<polygon points="256.33,395.6 269.71,402.8 281.27,398.83 267.89,391.63" fill="#74c61f" stroke="#16300a" stroke-width="1.15" stroke-linejoin="round"/>
<polygon points="283.09,468.68 296.47,475.88 296.47,421.9 283.09,414.7" fill="#73c61d" stroke="#16300a" stroke-width="1.15" stroke-linejoin="round"/>
<polygon points="296.47,475.88 308.03,471.92 308.03,417.93 296.47,421.9" fill="#6dbf18" stroke="#16300a" stroke-width="1.15" stroke-linejoin="round"/>
<polygon points="283.09,414.7 296.47,421.9 308.03,417.93 294.65,410.73" fill="#74c61f" stroke="#16300a" stroke-width="1.15" stroke-linejoin="round"/>
<polygon points="309.85,483.08 323.23,490.28 323.23,435.1 309.85,427.9" fill="#73c61d" stroke="#16300a" stroke-width="1.15" stroke-linejoin="round"/>
<polygon points="323.23,490.28 334.79,486.32 334.79,431.13 323.23,435.1" fill="#6dbf18" stroke="#16300a" stroke-width="1.15" stroke-linejoin="round"/>
<polygon points="309.85,427.9 323.23,435.1 334.79,431.13 321.41,423.93" fill="#74c61f" stroke="#16300a" stroke-width="1.15" stroke-linejoin="round"/>
<polygon points="179.67,433.42 193.05,440.62 193.05,380.1 179.67,372.9" fill="#2877ce" stroke="#0a2550" stroke-width="1.15" stroke-linejoin="round"/>
<polygon points="193.05,440.62 204.62,436.65 204.62,376.13 193.05,380.1" fill="#216dc5" stroke="#0a2550" stroke-width="1.15" stroke-linejoin="round"/>
<polygon points="179.67,372.9 193.05,380.1 204.62,376.13 191.24,368.93" fill="#2a76cc" stroke="#0a2550" stroke-width="1.15" stroke-linejoin="round"/>
<polygon points="206.43,447.82 219.81,455.02 219.81,401.3 206.43,394.1" fill="#2877ce" stroke="#0a2550" stroke-width="1.15" stroke-linejoin="round"/>
<polygon points="219.81,455.02 231.38,451.05 231.38,397.33 219.81,401.3" fill="#216dc5" stroke="#0a2550" stroke-width="1.15" stroke-linejoin="round"/>
<polygon points="206.43,394.1 219.81,401.3 231.38,397.33 218,390.13" fill="#2a76cc" stroke="#0a2550" stroke-width="1.15" stroke-linejoin="round"/>
<polygon points="233.19,462.22 246.57,469.42 246.57,422.1 233.19,414.9" fill="#2877ce" stroke="#0a2550" stroke-width="1.15" stroke-linejoin="round"/>
<polygon points="246.57,469.42 258.14,465.45 258.14,418.13 246.57,422.1" fill="#216dc5" stroke="#0a2550" stroke-width="1.15" stroke-linejoin="round"/>
<polygon points="233.19,414.9 246.57,422.1 258.14,418.13 244.76,410.93" fill="#2a76cc" stroke="#0a2550" stroke-width="1.15" stroke-linejoin="round"/>
<polygon points="259.95,476.62 273.33,483.82 273.33,443.4 259.95,436.2" fill="#2877ce" stroke="#0a2550" stroke-width="1.15" stroke-linejoin="round"/>
<polygon points="273.33,483.82 284.9,479.85 284.9,439.43 273.33,443.4" fill="#216dc5" stroke="#0a2550" stroke-width="1.15" stroke-linejoin="round"/>
<polygon points="259.95,436.2 273.33,443.4 284.9,439.43 271.52,432.23" fill="#2a76cc" stroke="#0a2550" stroke-width="1.15" stroke-linejoin="round"/>
<polygon points="286.71,491.02 300.09,498.22 300.09,451.1 286.71,443.9" fill="#2877ce" stroke="#0a2550" stroke-width="1.15" stroke-linejoin="round"/>
<polygon points="300.09,498.22 311.66,494.25 311.66,447.13 300.09,451.1" fill="#216dc5" stroke="#0a2550" stroke-width="1.15" stroke-linejoin="round"/>
<polygon points="286.71,443.9 300.09,451.1 311.66,447.13 298.28,439.93" fill="#2a76cc" stroke="#0a2550" stroke-width="1.15" stroke-linejoin="round"/>
<text x="0" y="0" font-size="8.3" text-anchor="middle" fill="#584208" stroke="#584208" stroke-width="0.35" font-family='"Liberation Sans", Arial, sans-serif' transform="translate(233.13 338.7) rotate(-90)" dominant-baseline="central">0.630</text>
<text x="0" y="0" font-size="8.3" text-anchor="middle" fill="#584208" stroke="#584208" stroke-width="0.35" font-family='"Liberation Sans", Arial, sans-serif' transform="translate(259.79 362.5) rotate(-90)" dominant-baseline="central">0.569</text>
<text x="0" y="0" font-size="8.3" text-anchor="middle" fill="#584208" stroke="#584208" stroke-width="0.35" font-family='"Liberation Sans", Arial, sans-serif' transform="translate(287.95 386.4) rotate(-90)" dominant-baseline="central">0.505</text>
<text x="0" y="0" font-size="8.3" text-anchor="middle" fill="#584208" stroke="#584208" stroke-width="0.35" font-family='"Liberation Sans", Arial, sans-serif' transform="translate(313.61 405.3) rotate(-90)" dominant-baseline="central">0.470</text>
<text x="0" y="0" font-size="8.3" text-anchor="middle" fill="#584208" stroke="#584208" stroke-width="0.35" font-family='"Liberation Sans", Arial, sans-serif' transform="translate(340.77 417.6) rotate(-90)" dominant-baseline="central">0.486</text>
<text x="0" y="0" font-size="8.3" text-anchor="middle" fill="#22440a" stroke="#22440a" stroke-width="0.35" font-family='"Liberation Sans", Arial, sans-serif' transform="translate(210.6 368.3) rotate(-90)" dominant-baseline="central">0.472</text>
<text x="0" y="0" font-size="8.3" text-anchor="middle" fill="#22440a" stroke="#22440a" stroke-width="0.35" font-family='"Liberation Sans", Arial, sans-serif' transform="translate(237.26 392.6) rotate(-90)" dominant-baseline="central">0.401</text>
<text x="0" y="0" font-size="8.3" text-anchor="middle" fill="#22440a" stroke="#22440a" stroke-width="0.35" font-family='"Liberation Sans", Arial, sans-serif' transform="translate(263.52 415.5) rotate(-90)" dominant-baseline="central">0.360</text>
<text x="0" y="0" font-size="8.3" text-anchor="middle" fill="#22440a" stroke="#22440a" stroke-width="0.35" font-family='"Liberation Sans", Arial, sans-serif' transform="translate(289.38 429) rotate(-90)" dominant-baseline="central">0.332</text>
<text x="0" y="0" font-size="8.3" text-anchor="middle" fill="#22440a" stroke="#22440a" stroke-width="0.35" font-family='"Liberation Sans", Arial, sans-serif' transform="translate(318.14 450.4) rotate(-90)" dominant-baseline="central">0.343</text>
<text x="0" y="0" font-size="8.3" text-anchor="middle" fill="#0b2d58" stroke="#0b2d58" stroke-width="0.35" font-family='"Liberation Sans", Arial, sans-serif' transform="translate(187.26 406.76) rotate(-90)" dominant-baseline="central">0.372</text>
<text x="0" y="0" font-size="8.3" text-anchor="middle" fill="#0b2d58" stroke="#0b2d58" stroke-width="0.35" font-family='"Liberation Sans", Arial, sans-serif' transform="translate(214.02 424.56) rotate(-90)" dominant-baseline="central">0.334</text>
<text x="0" y="0" font-size="8.3" text-anchor="middle" fill="#0b2d58" stroke="#0b2d58" stroke-width="0.35" font-family='"Liberation Sans", Arial, sans-serif' transform="translate(240.78 442.16) rotate(-90)" dominant-baseline="central">0.295</text>
<text x="0" y="0" font-size="8.3" text-anchor="middle" fill="#0b2d58" stroke="#0b2d58" stroke-width="0.35" font-family='"Liberation Sans", Arial, sans-serif' transform="translate(267.54 460.01) rotate(-90)" dominant-baseline="central">0.255</text>
<text x="0" y="0" font-size="8.3" text-anchor="middle" fill="#0b2d58" stroke="#0b2d58" stroke-width="0.35" font-family='"Liberation Sans", Arial, sans-serif' transform="translate(294.3 471.06) rotate(-90)" dominant-baseline="central">0.303</text>
<text x="164.3" y="436.4" font-size="10.2" text-anchor="end" fill="#262626" stroke="#262626" stroke-width="0.4" font-family='"Liberation Sans", Arial, sans-serif'>0</text>
<text x="164.3" y="403.5" font-size="10.2" text-anchor="end" fill="#262626" stroke="#262626" stroke-width="0.4" font-family='"Liberation Sans", Arial, sans-serif'>0.2</text>
<text x="164.3" y="370.6" font-size="10.2" text-anchor="end" fill="#262626" stroke="#262626" stroke-width="0.4" font-family='"Liberation Sans", Arial, sans-serif'>0.4</text>
<text x="164.3" y="337.7" font-size="10.2" text-anchor="end" fill="#262626" stroke="#262626" stroke-width="0.4" font-family='"Liberation Sans", Arial, sans-serif'>0.6</text>
<text x="164.3" y="304.8" font-size="10.2" text-anchor="end" fill="#262626" stroke="#262626" stroke-width="0.4" font-family='"Liberation Sans", Arial, sans-serif'>0.8</text>
<text x="0" y="0" font-size="9.6" text-anchor="middle" fill="#262626" stroke="#262626" stroke-width="0.4" font-family='"Liberation Sans", Arial, sans-serif' transform="translate(174.88 446.2) rotate(28.29) skewX(-4)" dominant-baseline="central">30</text>
<text x="0" y="0" font-size="9.6" text-anchor="middle" fill="#262626" stroke="#262626" stroke-width="0.4" font-family='"Liberation Sans", Arial, sans-serif' transform="translate(201.64 460.6) rotate(28.29) skewX(-4)" dominant-baseline="central">50</text>
<text x="0" y="0" font-size="9.6" text-anchor="middle" fill="#262626" stroke="#262626" stroke-width="0.4" font-family='"Liberation Sans", Arial, sans-serif' transform="translate(228.4 475) rotate(28.29) skewX(-4)" dominant-baseline="central">100</text>
<text x="0" y="0" font-size="9.6" text-anchor="middle" fill="#262626" stroke="#262626" stroke-width="0.4" font-family='"Liberation Sans", Arial, sans-serif' transform="translate(255.16 489.4) rotate(28.29) skewX(-4)" dominant-baseline="central">150</text>
<text x="0" y="0" font-size="9.6" text-anchor="middle" fill="#262626" stroke="#262626" stroke-width="0.4" font-family='"Liberation Sans", Arial, sans-serif' transform="translate(281.92 503.8) rotate(28.29) skewX(-4)" dominant-baseline="central">180</text>
<text x="0" y="0" font-size="10.2" text-anchor="middle" fill="#262626" stroke="#262626" stroke-width="0.4" font-family='"Liberation Sans", Arial, sans-serif' transform="translate(316.27 507.13) rotate(-18.93)" dominant-baseline="central">0.05</text>
<text x="0" y="0" font-size="10.2" text-anchor="middle" fill="#262626" stroke="#262626" stroke-width="0.4" font-family='"Liberation Sans", Arial, sans-serif' transform="translate(339.4 499.2) rotate(-18.93)" dominant-baseline="central">0.1</text>
<text x="0" y="0" font-size="10.2" text-anchor="middle" fill="#262626" stroke="#262626" stroke-width="0.4" font-family='"Liberation Sans", Arial, sans-serif' transform="translate(362.53 491.27) rotate(-18.93)" dominant-baseline="central">0.25</text>
<text x="0" y="0" font-size="11.0" text-anchor="middle" fill="#262626" stroke="#262626" stroke-width="0.4" font-family='"Liberation Sans", Arial, sans-serif' transform="translate(144 366.4) rotate(-90)">Contact length, [mm]</text>
<text x="0" y="0" font-size="11.0" text-anchor="middle" fill="#262626" stroke="#262626" stroke-width="0.4" font-family='"Liberation Sans", Arial, sans-serif' transform="translate(217 483) rotate(29.29)" dominant-baseline="central">Cutting speed, [m/min]</text>
<text x="0" y="0" font-size="11.0" text-anchor="middle" fill="#262626" stroke="#262626" stroke-width="0.4" font-family='"Liberation Sans", Arial, sans-serif' transform="translate(349 509) rotate(-18.93)" dominant-baseline="central">Depth of cut, [mm]</text>
<text x="263.5" y="542.3" font-size="13" text-anchor="middle" fill="#222" font-family='"Liberation Serif", "Times New Roman", serif'>(<tspan font-weight="bold">c</tspan>)</text>
</g>
</g>
</svg>
</body></html>
